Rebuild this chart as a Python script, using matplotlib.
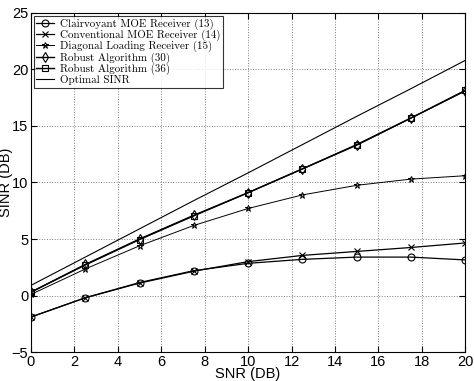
import matplotlib
matplotlib.use('Agg')
import matplotlib.pyplot as plt

snr = [0, 2.5, 5, 7.5, 10, 12.5, 15, 17.5, 20]
clairvoyant = [-1.9, -0.2, 1.15, 2.2, 2.85, 3.2, 3.4, 3.4, 3.15]
conventional = [-1.9, -0.2, 1.1, 2.15, 3.0, 3.55, 3.9, 4.25, 4.65]
diag_loading = [0.1, 2.35, 4.4, 6.2, 7.7, 8.9, 9.75, 10.3, 10.6]
robust30 = [0.3, 2.75, 5.0, 7.1, 9.1, 11.2, 13.3, 15.7, 18.1]
robust36 = [0.3, 2.7, 4.95, 7.05, 9.1, 11.2, 13.35, 15.7, 18.15]
optimal = [0.9, 3.4, 5.9, 8.4, 10.85, 13.35, 15.85, 18.3, 20.8]

plt.rcParams['font.family'] = ['Liberation Sans', 'DejaVu Sans']

fig = plt.figure(figsize=(4.74, 3.81), dpi=100)
ax = fig.add_axes([0.0654, 0.076, 0.916, 0.890])

ax.plot(snr, clairvoyant, color='black', lw=0.9, marker='o', ms=5, mfc='none', mew=0.8,
        label='Clairvoyant MOE Receiver (13)')
ax.plot(snr, conventional, color='black', lw=0.9, marker='x', ms=4, mew=0.8,
        label='Conventional MOE Receiver (14)')
ax.plot(snr, diag_loading, color='black', lw=0.7, marker='*', ms=5, mfc='none', mew=0.7,
        label='Diagonal Loading Receiver (15)')
ax.plot(snr, robust30, color='black', lw=1.0, marker='d', ms=5, mfc='none', mew=0.8,
        label='Robust Algorithm (30)')
ax.plot(snr, robust36, color='black', lw=1.0, marker='s', ms=4, mfc='none', mew=0.8,
        label='Robust Algorithm (36)')
ax.plot(snr, optimal, color='black', lw=0.8, label='Optimal SINR')

ax.set_xlim(0, 20)
ax.set_ylim(-5, 25)
ax.set_xticks(range(0, 21, 2))
ax.set_yticks(range(-5, 26, 5))
ax.tick_params(direction='in', labelsize=10.5, top=True, right=True, length=4, pad=2)
ax.grid(True, linestyle=':', color='0.5', lw=0.7)
ax.set_xlabel('SNR (DB)', fontsize=10.5, labelpad=-1)
ax.set_ylabel('SINR (DB)', fontsize=10.5, labelpad=-1)

leg = ax.legend(loc='upper left', prop={'family': 'cmr10', 'size': 7.9},
                frameon=True, fancybox=False, edgecolor='black', handlelength=1.6,
                handletextpad=0.5, labelspacing=0.0, borderpad=0.25,
                borderaxespad=0.25)
leg.get_frame().set_linewidth(0.8)

fig.savefig('out.png', dpi=100)
